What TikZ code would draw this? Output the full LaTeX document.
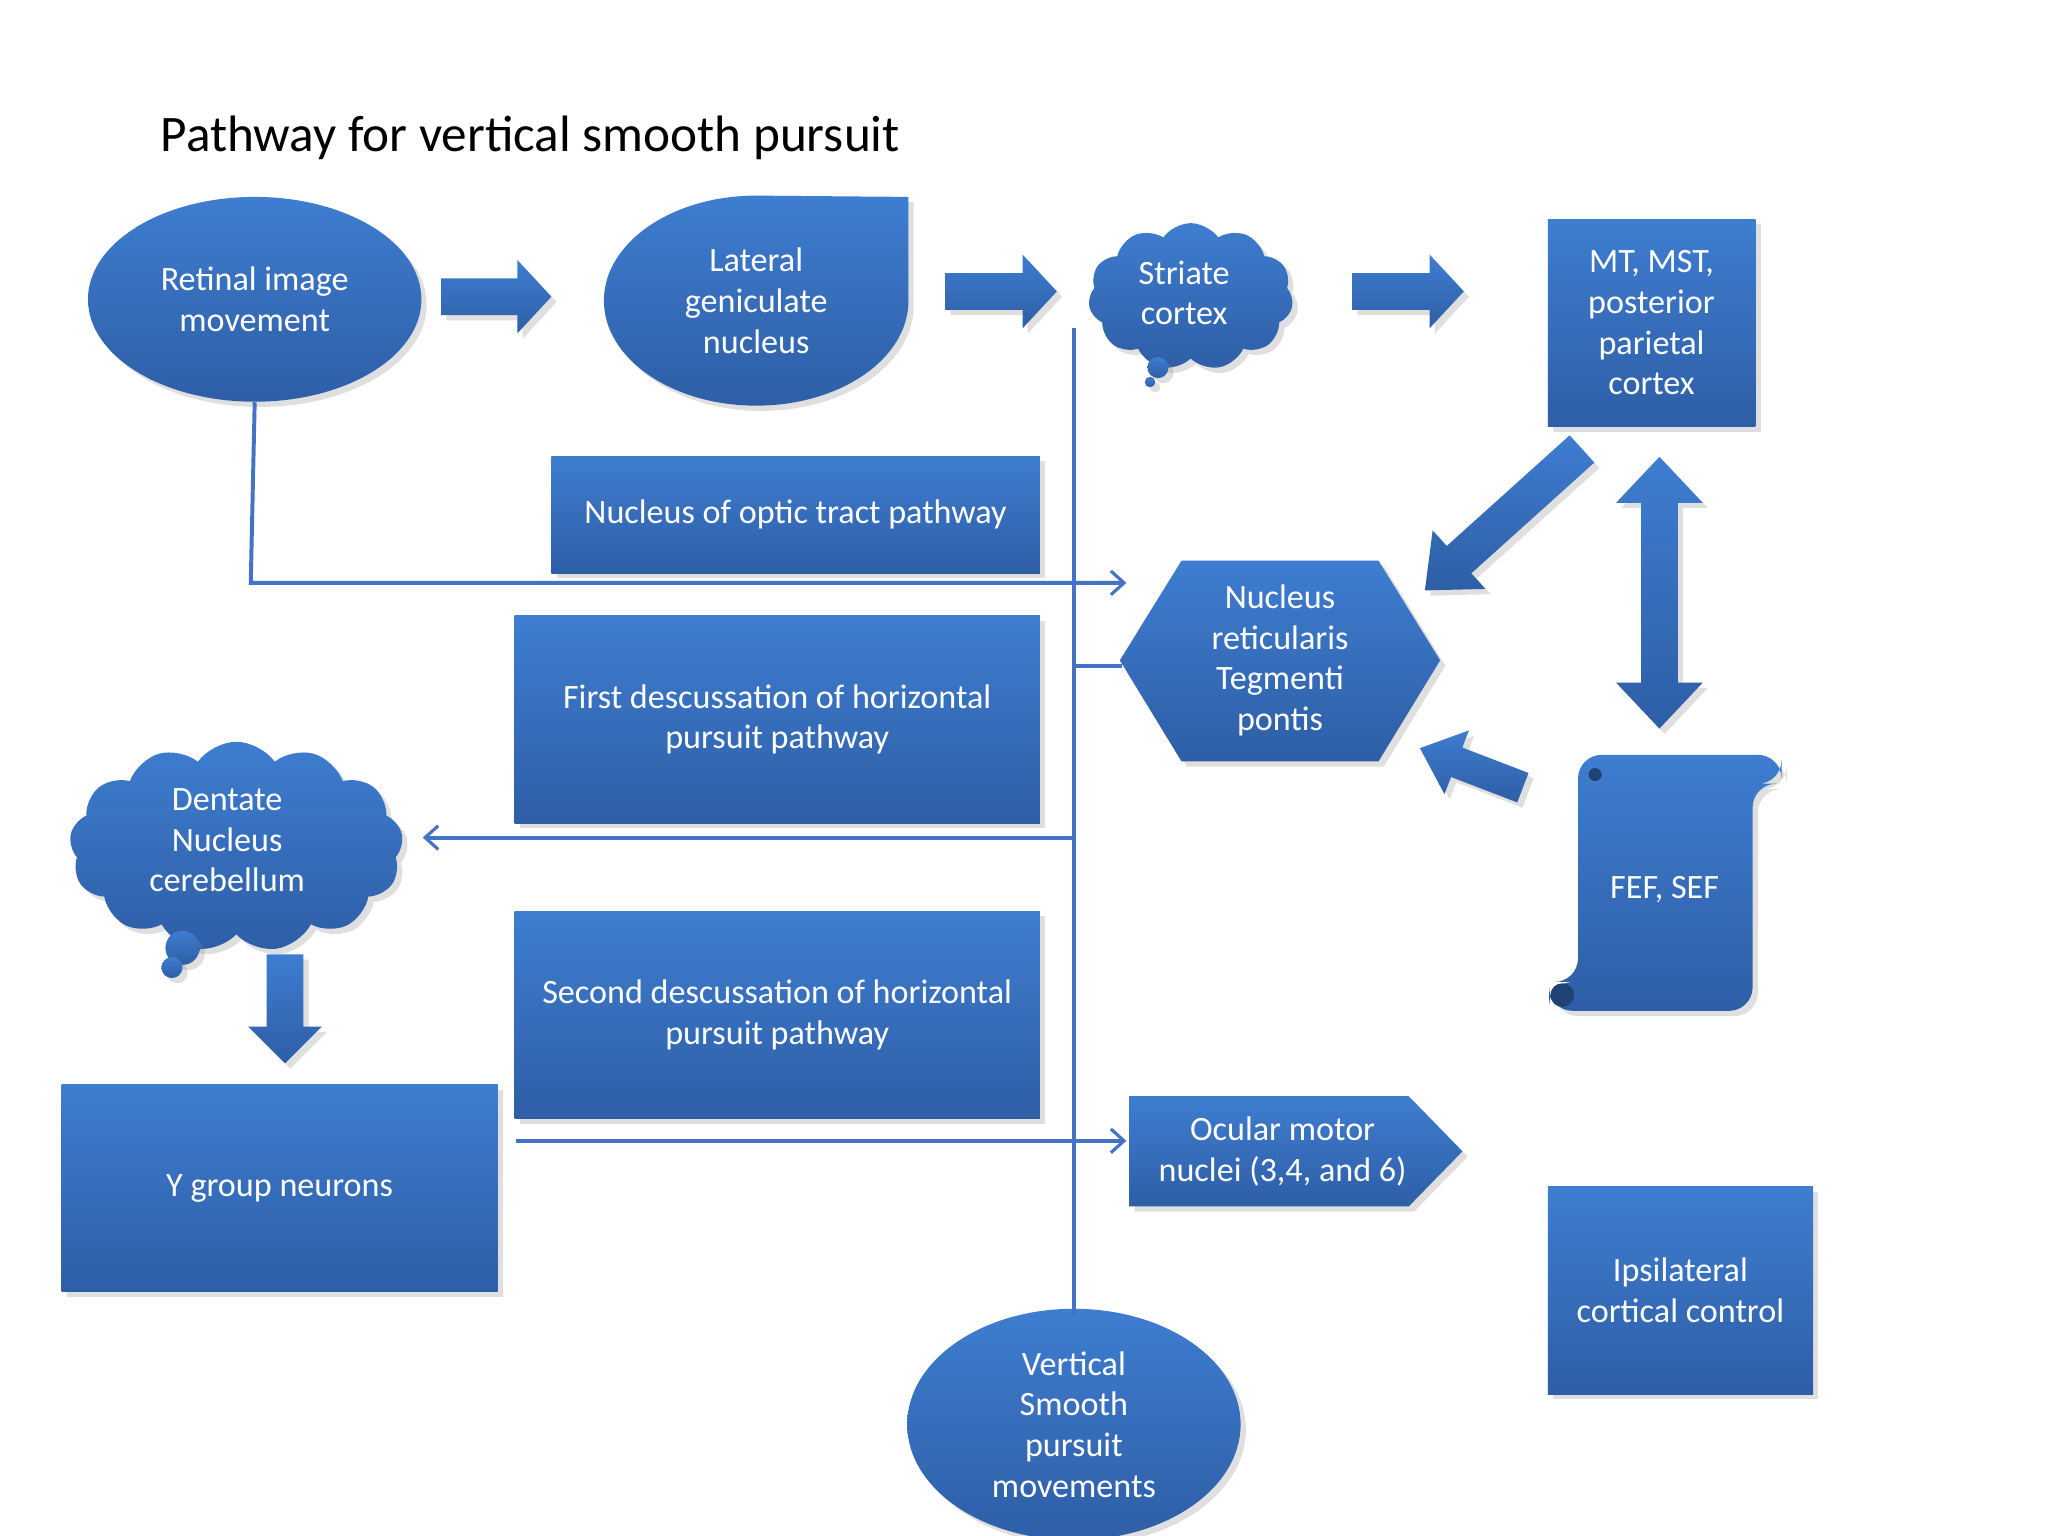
\documentclass[tikz,border=0pt]{standalone}
\usepackage{fontspec}
\setmainfont{Carlito}
\usetikzlibrary{shapes.geometric,shapes.symbols,shadows,arrows.meta}
\definecolor{ctop}{RGB}{62,125,208}
\definecolor{cbot}{RGB}{46,94,166}
\definecolor{cline}{RGB}{68,114,196}
\newcommand\myblockarrow[7]{% x y angle L s w h
  \begin{scope}[shift={(#1,#2)},rotate=#3]
  \path[blk] (0,-#5) -- ({#4-#7},-#5) -- ({#4-#7},-#6) -- (#4,0) -- ({#4-#7},#6) -- ({#4-#7},#5) -- (0,#5) -- cycle;
  \end{scope}}
\begin{document}
\begin{tikzpicture}[x=0.5pt,y=-0.5pt,
  blk/.style={top color=ctop,bottom color=cbot,draw=none,
    drop shadow={opacity=0.25,shadow xshift=2pt,shadow yshift=-2pt}},
  txt/.style={text=white,font=\fontsize{13}{15.5}\selectfont,align=center},
  conn/.style={draw=cline,line width=1.5pt},
  tip/.style={-{Straight Barb[length=5pt,width=9pt,line width=1.2pt]}}]
\useasboundingbox[fill=white] (0,0) rectangle (1560,1170);
\node[anchor=west,font=\fontsize{19.5}{23}\selectfont,inner sep=0pt] (title) at (122,105) {Pathway for vertical smooth pursuit};
% top row
\node[blk,ellipse,minimum width=127pt,minimum height=78pt,txt] (ret) at (194,228) {Retinal image\\movement};
\myblockarrow{336}{226}{0}{84}{14}{28}{26}
\path[blk] (692,150) -- (692,229) arc[start angle=0,end angle=270,x radius=116,y radius=80] -- cycle;
\node[txt] (lgn) at (576,229) {Lateral\\geniculate\\nucleus};
\myblockarrow{720}{222}{0}{85}{14}{28}{26}
\node[blk,cloud,cloud puffs=11,cloud puff arc=110,aspect=1.4,minimum width=78pt,minimum height=56pt] (str) at (907,226) {};
\node[blk,circle,minimum size=8pt,inner sep=0pt] (sb1) at (882,280) {};
\node[blk,circle,minimum size=4pt,inner sep=0pt] (sb2) at (876,291) {};
\node[txt] (strt) at (902,223) {Striate\\cortex};
\myblockarrow{1030}{222}{0}{85}{14}{28}{26}
\node[blk,rectangle,minimum width=79pt,minimum height=79pt,txt] (mt) at (1258,246) {MT, MST,\\posterior\\parietal\\cortex};
% middle
\node[blk,rectangle,minimum width=186pt,minimum height=44.5pt,txt] (not) at (606,392) {Nucleus of optic tract pathway};
\path[blk] (900,427) -- (1050,427) -- (1097,503) -- (1050,580) -- (900,580) -- (853,503) -- cycle;
\node[txt] (nrtp) at (975,503) {Nucleus\\reticularis\\Tegmenti\\pontis};
\myblockarrow{1205}{342}{222}{161}{14}{30}{35}
\path[blk] (1264,348) -- (1297,383) -- (1278,383) -- (1278,520) -- (1297,520) -- (1264,555) -- (1231,520) -- (1250,520) -- (1250,383) -- (1231,383) -- cycle;
\myblockarrow{1160}{600}{159}{84}{12}{26}{30}
% FEF scroll
\path[blk,rounded corners=9] (1202,575) -- (1357,575) -- (1357,597) -- (1335,597) -- (1335,770) -- (1180,770) -- (1180,748) -- (1202,748) -- cycle;
\node[txt] (fef) at (1268,678) {FEF, SEF};
\fill[cbot!70!black] (1190,758) circle (9);
\fill[cbot!70!black] (1215,590) circle (5);
\node[blk,rectangle,minimum width=200pt,minimum height=79pt,txt] (first) at (592,548) {First descussation of horizontal\\pursuit pathway};
\node[blk,cloud,cloud puffs=13,cloud puff arc=110,aspect=1.6,minimum width=127pt,minimum height=80pt] (den) at (180,645) {};
\node[blk,circle,minimum size=13pt,inner sep=0pt] (db1) at (139,722) {};
\node[blk,circle,minimum size=8pt,inner sep=0pt] (db2) at (131,737) {};
\node[txt] (dent) at (173,640) {Dentate\\Nucleus\\cerebellum};
\myblockarrow{217}{727}{-90}{83}{14}{28}{28}
\node[blk,rectangle,minimum width=166pt,minimum height=79pt,txt] (ygr) at (213,905) {Y group neurons};
\node[blk,rectangle,minimum width=200pt,minimum height=79pt,txt] (second) at (592,773) {Second descussation of horizontal\\pursuit pathway};
\path[blk] (860,835) -- (1073,835) -- (1114,877) -- (1073,919) -- (860,919) -- cycle;
\node[txt] (ocu) at (977,877) {Ocular motor\\nuclei (3,4, and 6)};
\node[blk,rectangle,minimum width=101pt,minimum height=79pt,txt] (ips) at (1280,983) {Ipsilateral\\cortical control};
\node[blk,ellipse,minimum width=127pt,minimum height=80pt,txt] (vsp) at (818,1085) {Vertical\\Smooth\\pursuit\\movements};
% connectors
\coordinate (vtop) at (818,250);
\coordinate (vbot) at (818,1003);
\coordinate (c1) at (191,444);
\coordinate (c2) at (858,444);
\coordinate (c3) at (818,638);
\coordinate (c4) at (322,638);
\coordinate (c5) at (393,869);
\coordinate (c6) at (858,869);
\coordinate (c7) at (818,507);
\coordinate (c8) at (855,507);
\draw[conn] (vtop) -- (vbot);
\draw[conn,tip] (ret.south) -- (c1) -- (c2);
\draw[conn,tip] (c3) -- (c4);
\draw[conn,tip] (c5) -- (c6);
\draw[conn] (c7) -- (c8);
\end{tikzpicture}
\end{document}
